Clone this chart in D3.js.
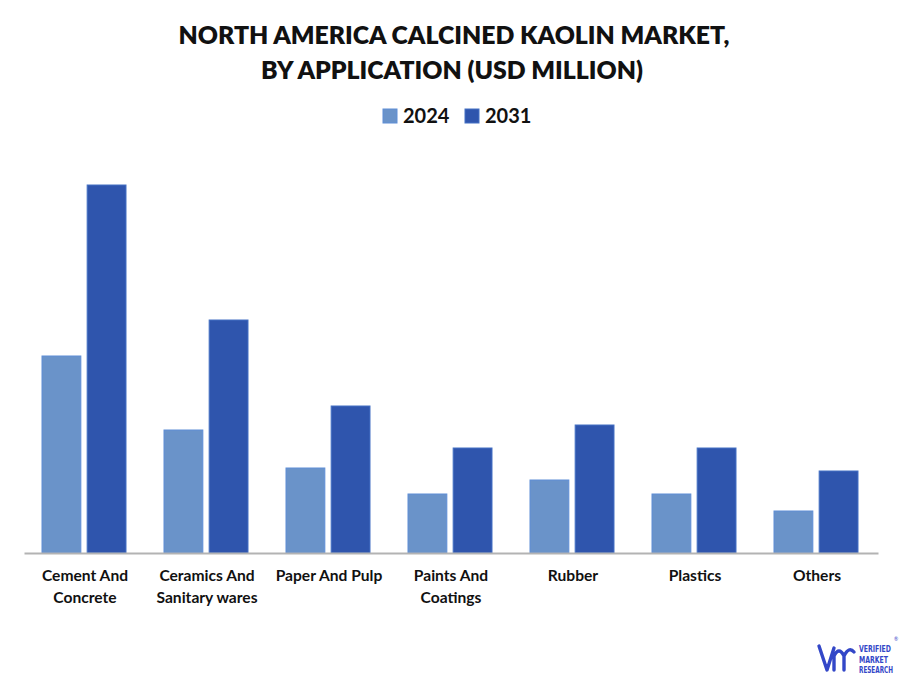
<!DOCTYPE html>
<html><head><meta charset="utf-8">
<script src="https://cdn.jsdelivr.net/npm/d3@7"></script>
<style>body{margin:0;background:#fff}svg{display:block}</style>
</head><body><svg id="c" width="901" height="680"></svg>
<script>
const categories = [["Cement And","Concrete"],["Ceramics And","Sanitary wares"],["Paper And Pulp"],["Paints And","Coatings"],["Rubber"],["Plastics"],["Others"]];
const seriesNames = ["2024","2031"];
const values2024 = [98.5, 61.5, 42.5, 29.5, 36.5, 29.5, 21];
const values2031 = [184, 116.5, 73.5, 52.5, 64, 52.5, 41];
const colors = ["#6a93c9","#2f55ad"];
const strokes = ["#5f8ed6","#4471c4"];

const svg = d3.select("#c");
const font = "Lato, 'Open Sans', sans-serif";
const keys = categories.map((c,i)=>i);
const x = d3.scaleBand().domain(keys).range([24,878]).paddingInner(0).paddingOuter(0);
const x1 = d3.scaleBand().domain(seriesNames).range([18, x.bandwidth()-20]).paddingInner(0.14);
const y = d3.scaleLinear().domain([0,200]).range([553,153]);

svg.append("text").attr("x",454).attr("y",44).attr("text-anchor","middle")
  .attr("font-family",font).attr("font-weight",800).attr("font-size",24.8).attr("fill","#111")
  .text("NORTH AMERICA CALCINED KAOLIN MARKET,");
svg.append("text").attr("x",452).attr("y",79).attr("text-anchor","middle")
  .attr("font-family",font).attr("font-weight",800).attr("font-size",24.8).attr("fill","#111")
  .text("BY APPLICATION (USD MILLION)");

// legend
const lg = svg.append("g");
const legX = [383, 465];
seriesNames.forEach((s,i)=>{
  lg.append("rect").attr("x",legX[i]).attr("y",109).attr("width",14).attr("height",14)
    .attr("fill",colors[i]).attr("stroke",strokes[i]).attr("stroke-width",1);
  lg.append("text").attr("x",legX[i]+20).attr("y",123).attr("font-family",font)
    .attr("font-weight",700).attr("font-size",20).attr("fill","#111").text(s);
});

const data = [values2024, values2031];
const g = svg.append("g");
keys.forEach(k=>{
  seriesNames.forEach((s,si)=>{
    const v = data[si][k];
    g.append("rect").attr("x",x(k)+x1(s)).attr("y",y(v)).attr("width",x1.bandwidth())
      .attr("height",y(0)-y(v)).attr("fill",colors[si]).attr("stroke",strokes[si]).attr("stroke-width",1);
  });
});

const ax = svg.append("g").attr("transform","translate(0,553)").call(d3.axisBottom(x).tickSize(0).tickFormat(""));
ax.select(".domain").attr("stroke","#b3b3b3").attr("stroke-width",2);

keys.forEach(k=>{
  const t = svg.append("text").attr("text-anchor","middle").attr("font-family",font)
    .attr("font-weight",700).attr("font-size",15.6).attr("fill","#111");
  categories[k].forEach((line,li)=>{
    t.append("tspan").attr("x",x(k)+x.bandwidth()/2).attr("y",581+li*22).text(line);
  });
});

// logo
const logo = svg.append("g").attr("fill","none").attr("stroke","#3347c8").attr("stroke-width",3.4).attr("stroke-linecap","round").attr("stroke-linejoin","round");
logo.append("path").attr("d","M819,646 L827,670 L834,648 M834,670 L834,656 Q839,646 844,656 L844,670 M844,656 Q849,646 854,652");
const lt = svg.append("g").attr("font-family","'Liberation Sans Narrow','DejaVu Sans Condensed',sans-serif").attr("font-weight",700).attr("font-size",8).attr("fill","#3347c8");
[["VERIFIED",652,32],["MARKET",662.5,29],["RESEARCH",673,34]].forEach(d=>{
  lt.append("text").attr("x",859).attr("y",d[1]).attr("textLength",d[2]).attr("lengthAdjust","spacingAndGlyphs").text(d[0]);
});
svg.append("text").attr("x",894).attr("y",641).attr("font-family",font).attr("font-size",5).attr("fill","#3347c8").text("®");
</script></body></html>
